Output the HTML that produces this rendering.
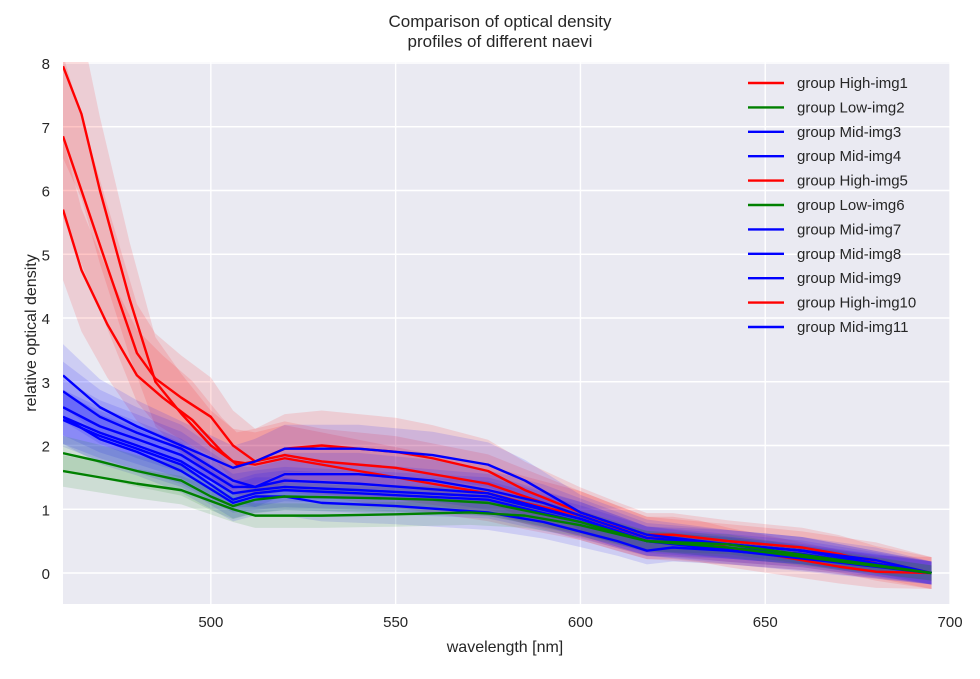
<!DOCTYPE html>
<html><head><meta charset="utf-8"><style>
body{margin:0;background:#fff;}
svg text{font-family:"Liberation Sans","DejaVu Sans",sans-serif;fill:#262626;}
</style></head><body>
<svg id="s" width="980" height="674" xmlns="http://www.w3.org/2000/svg">
<rect x="63" y="62" width="887" height="542" fill="#EAEAF2"/>
<g id="grid" stroke="#fff" stroke-width="1.4"></g>
<defs><clipPath id="c"><rect x="63" y="62" width="887" height="542"/></clipPath></defs>
<g id="bands" clip-path="url(#c)"></g>
<g id="lines" clip-path="url(#c)" fill="none" stroke-width="2.4" stroke-linejoin="round"></g>
<g id="ticks" font-size="15" style="fill:#333"></g>
<text x="500" y="27" font-size="17" text-anchor="middle">Comparison of optical density</text>
<text x="500" y="47" font-size="17" text-anchor="middle">profiles of different naevi</text>
<text x="505" y="652" font-size="16" text-anchor="middle">wavelength [nm]</text>
<text transform="translate(36,333) rotate(-90)" font-size="16" text-anchor="middle">relative optical density</text>
<g id="legend" font-size="15"></g>
</svg>
<script>
var X=function(w){return 63+(w-460)*3.696;},Y=function(v){return 573-v*63.75;};
var ns="http://www.w3.org/2000/svg";
function el(p,t,a,txt){var e=document.createElementNS(ns,t);for(var k in a)e.setAttribute(k,a[k]);if(txt!=null)e.textContent=txt;document.getElementById(p).appendChild(e);}
for(var v=0;v<=8;v++){el("grid","line",{x1:63,x2:950,y1:Y(v),y2:Y(v)});el("ticks","text",{x:50,y:Y(v)+6,"text-anchor":"end"},v);}
[500,550,600,650,700].forEach(function(w){el("grid","line",{x1:X(w),x2:X(w),y1:62,y2:604});el("ticks","text",{x:X(w),y:627,"text-anchor":"middle"},w);});
var S=[
["red",[[460,7.95],[465,7.2],[470,6.0],[478,4.3],[485,3.0],[492,2.5],[500,2.0],[506,1.75],[512,1.7],[520,1.8],[530,1.7],[540,1.6],[550,1.5],[560,1.4],[575,1.25],[585,1.1],[600,0.9],[610,0.7],[618,0.55],[625,0.55],[632,0.5],[640,0.4],[650,0.3],[660,0.2],[670,0.1],[680,0.02],[695,0]]],
["red",[[460,6.85],[465,6.0],[472,4.8],[480,3.45],[485,3.05],[492,2.75],[500,2.45],[506,2.0],[512,1.75],[520,1.95],[530,2.0],[540,1.95],[550,1.9],[560,1.8],[575,1.6],[585,1.3],[600,0.95],[610,0.75],[618,0.6],[625,0.6],[640,0.5],[650,0.45],[660,0.4],[670,0.3],[680,0.15],[695,0]]],
["red",[[460,5.7],[465,4.75],[472,3.9],[480,3.1],[487,2.75],[495,2.4],[503,1.9],[507,1.7],[512,1.75],[520,1.85],[530,1.75],[550,1.65],[575,1.4],[585,1.2],[600,0.9],[618,0.55],[640,0.45],[660,0.35],[680,0.2],[695,0]]],
["blue",[[460,3.1],[470,2.6],[480,2.3],[492,2.0],[506,1.65],[512,1.75],[520,1.95],[540,1.95],[560,1.85],[575,1.7],[585,1.45],[600,0.95],[618,0.6],[640,0.45],[660,0.35],[680,0.2],[695,0]]],
["blue",[[460,2.85],[470,2.45],[480,2.2],[492,1.95],[506,1.45],[512,1.35],[520,1.55],[540,1.55],[560,1.45],[575,1.3],[590,1.1],[600,0.9],[618,0.55],[640,0.45],[660,0.35],[695,0]]],
["blue",[[460,2.6],[470,2.3],[480,2.1],[492,1.85],[506,1.35],[512,1.35],[520,1.45],[540,1.4],[575,1.25],[600,0.85],[618,0.5],[640,0.45],[660,0.35],[695,0]]],
["blue",[[460,2.45],[470,2.2],[480,2.0],[492,1.75],[506,1.25],[512,1.3],[520,1.35],[540,1.3],[575,1.2],[600,0.85],[618,0.5],[660,0.3],[695,0]]],
["blue",[[460,2.4],[470,2.15],[480,1.95],[492,1.7],[506,1.15],[512,1.25],[520,1.3],[540,1.25],[575,1.15],[600,0.8],[618,0.5],[695,0]]],
["blue",[[460,2.45],[470,2.1],[480,1.9],[492,1.6],[506,1.1],[512,1.2],[520,1.2],[530,1.1],[550,1.05],[575,0.95],[590,0.8],[600,0.65],[610,0.5],[618,0.35],[625,0.4],[640,0.35],[660,0.25],[695,0]]],
["green",[[460,1.88],[470,1.75],[480,1.6],[492,1.45],[500,1.2],[506,1.05],[512,1.15],[520,1.2],[540,1.18],[560,1.15],[575,1.1],[600,0.8],[618,0.5],[640,0.45],[695,0]]],
["green",[[460,1.6],[470,1.5],[480,1.4],[492,1.3],[506,1.0],[512,0.9],[530,0.9],[550,0.92],[570,0.95],[585,0.9],[600,0.75],[618,0.5],[640,0.4],[695,0]]]];
var col={red:"#ff0000",blue:"#0000ff",green:"#008000"};
var bw={red:[0.25,0.15],blue:[0.18,0.1],green:[0.12,0.08]};
S.forEach(function(s){var c=s[0],p=s[1],b=bw[c];
 var up=p.map(function(q){var w=b[0]+b[1]*q[1];return X(q[0])+","+Y(q[1]+w);});
 var dn=p.map(function(q){var w=b[0]+b[1]*q[1];return X(q[0])+","+Y(q[1]-w);}).reverse();
 el("bands","polygon",{points:up.concat(dn).join(" "),fill:col[c],"fill-opacity":0.12});
});
S.forEach(function(s){el("lines","polyline",{points:s[1].map(function(q){return X(q[0])+","+Y(q[1]);}).join(" "),stroke:col[s[0]]});});
var L=[["red","group High-img1"],["green","group Low-img2"],["blue","group Mid-img3"],["blue","group Mid-img4"],["red","group High-img5"],["green","group Low-img6"],["blue","group Mid-img7"],["blue","group Mid-img8"],["blue","group Mid-img9"],["red","group High-img10"],["blue","group Mid-img11"]];
L.forEach(function(l,i){var y=83+i*24.4;el("legend","line",{x1:748,x2:784,y1:y,y2:y,stroke:col[l[0]],"stroke-width":2.4});el("legend","text",{x:797,y:y+5},l[1]);});
</script>
</body></html>
